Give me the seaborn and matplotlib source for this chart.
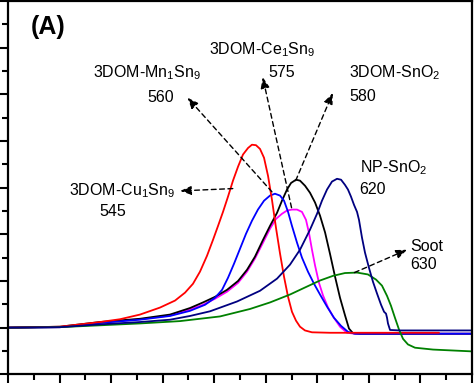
import matplotlib
matplotlib.use("Agg")
import matplotlib.pyplot as plt
import seaborn as sns
from matplotlib.ticker import MultipleLocator

# ---- data (temperature in C, signal in a.u.) ----
temp_cu = [300, 350.4, 389.2, 408.6, 428.0, 447.4, 462.0, 471.7, 479.4, 486.2, 493.0, 498.8,
           503.7, 508.5, 513.4, 518.2, 523.1, 527.9, 532.8, 536.6, 540.5, 544.4, 548.3, 552.2,
           556.0, 559.9, 563.8, 567.7, 571.6, 575.4, 579.3, 583.2, 588.0, 594.8, 612.3, 718.0]
sig_cu = [0.00, 0.02, 0.12, 0.18, 0.28, 0.43, 0.58, 0.75, 0.94, 1.20, 1.54, 1.88,
          2.18, 2.48, 2.81, 3.15, 3.45, 3.71, 3.85, 3.92, 3.91, 3.83, 3.64, 3.25,
          2.74, 2.14, 1.59, 1.09, 0.66, 0.34, 0.15, 0.02, -0.06, -0.10, -0.11, -0.11]

temp_mn = [300, 350.4, 389.2, 428.0, 457.1, 476.5, 491.1, 500.8, 507.6, 513.4, 519.2, 525.0,
           530.8, 536.6, 542.4, 548.3, 554.1, 558.9, 563.8, 567.7, 571.6, 575.4, 580.3, 585.1,
           590.9, 596.8, 602.6, 609.4, 616.2, 622.9, 629.7, 636.5, 751]
sig_mn = [0.00, 0.01, 0.10, 0.17, 0.25, 0.36, 0.49, 0.64, 0.81, 1.07, 1.37, 1.69,
          2.01, 2.29, 2.53, 2.72, 2.83, 2.87, 2.83, 2.72, 2.48, 2.18, 1.82, 1.50,
          1.20, 0.94, 0.71, 0.45, 0.21, 0.04, -0.09, -0.13, -0.13]

temp_ce = [300, 350.4, 389.2, 428.0, 457.1, 476.5, 489.1, 500.8, 512.4, 523.1, 531.8, 539.5,
           547.3, 554.1, 559.9, 565.7, 570.6, 575.4, 580.3, 585.1, 589.0, 591.9, 594.8, 597.8,
           601.6, 605.5, 610.4, 615.2, 622.0, 628.8, 636.5, 751]
sig_ce = [0.00, 0.01, 0.11, 0.18, 0.26, 0.39, 0.49, 0.62, 0.77, 0.96, 1.20, 1.48,
          1.82, 2.12, 2.33, 2.44, 2.51, 2.53, 2.53, 2.48, 2.31, 2.03, 1.67, 1.33,
          0.96, 0.69, 0.43, 0.24, 0.02, -0.11, -0.13, -0.13]

temp_sno2 = [300, 350.4, 389.2, 428.0, 457.1, 476.5, 489.1, 500.8, 512.4, 523.1, 531.8, 539.5,
             547.3, 554.1, 560.9, 565.7, 570.6, 574.5, 579.3, 583.2, 588.1, 592.9, 597.8, 602.6,
             607.5, 612.3, 617.2, 622.0, 626.9, 630.7, 634.6, 641.4, 751]
sig_sno2 = [0.00, 0.02, 0.12, 0.19, 0.28, 0.42, 0.54, 0.66, 0.81, 1.00, 1.24, 1.52,
            1.88, 2.18, 2.46, 2.72, 2.96, 3.10, 3.17, 3.15, 3.04, 2.89, 2.68, 2.40,
            2.04, 1.58, 1.09, 0.64, 0.26, -0.02, -0.12, -0.13, -0.13]

temp_np = [300, 350.4, 389.2, 428.0, 457.1, 476.5, 495.9, 522.1, 544.4, 560.9, 573.5, 583.2,
           592.9, 599.7, 604.5, 609.4, 614.2, 619.1, 623.0, 626.8, 629.7, 632.6, 635.6, 638.5,
           640.4, 643.3, 646.2, 650.1, 654.0, 657.9, 661.8, 664.7, 666.6, 667.6, 668.5, 670.5,
           680.2, 751]
sig_np = [0.00, 0.01, 0.07, 0.12, 0.17, 0.25, 0.35, 0.56, 0.79, 1.05, 1.35, 1.67,
          2.10, 2.44, 2.72, 2.96, 3.13, 3.19, 3.17, 3.06, 2.96, 2.81, 2.63, 2.48,
          2.31, 1.93, 1.61, 1.28, 0.98, 0.73, 0.49, 0.34, 0.30, 0.21, 0.09, -0.05,
          -0.06, -0.06]

temp_soot = [300, 350.4, 389.2, 428.0, 466.8, 505.6, 534.7, 554.1, 573.5, 588.0, 602.6, 615.2,
             626.8, 638.5, 649.1, 656.9, 662.7, 667.6, 671.4, 675.3, 679.2, 683.1, 687.9, 694.7,
             712.2, 751]
sig_soot = [0.00, 0.01, 0.05, 0.09, 0.14, 0.24, 0.40, 0.54, 0.71, 0.86, 1.01, 1.11,
            1.17, 1.18, 1.14, 1.03, 0.90, 0.68, 0.47, 0.21, -0.04, -0.24, -0.36, -0.43,
            -0.47, -0.51]

series = [
    ("3DOM-Ce1Sn9", temp_ce, sig_ce, "#ff00ff"),
    ("3DOM-SnO2", temp_sno2, sig_sno2, "#000000"),
    ("3DOM-Mn1Sn9", temp_mn, sig_mn, "#0000ff"),
    ("3DOM-Cu1Sn9", temp_cu, sig_cu, "#ff0000"),
    ("Soot", temp_soot, sig_soot, "#008000"),
    ("NP-SnO2", temp_np, sig_np, "#000080"),
]

sns.set_theme(style="ticks")
plt.rcParams['font.family'] = ['Liberation Sans', 'DejaVu Sans']
plt.rcParams['mathtext.fontset'] = 'custom'
plt.rcParams['mathtext.rm'] = 'Liberation Sans'
plt.rcParams['mathtext.default'] = 'regular'
plt.rcParams['text.color'] = 'black'

fig = plt.figure(figsize=(4.74, 3.83), dpi=100)
ax = fig.add_axes([8 / 474, 8.7 / 383, 464 / 474, 373.3 / 383])

for name, t, s, c in series:
    sns.lineplot(x=t, y=s, color=c, linewidth=1.3, estimator=None, sort=False, ax=ax)

ax.set_xlim(300, 750)
ax.set_ylim(-1, 7)
ax.xaxis.set_major_locator(MultipleLocator(50))
ax.xaxis.set_minor_locator(MultipleLocator(25))
ax.yaxis.set_major_locator(MultipleLocator(1))
ax.yaxis.set_minor_locator(MultipleLocator(0.5))
ax.tick_params(which='major', direction='out', length=7, width=1.5, color='black',
               labelleft=False, labelbottom=False)
ax.tick_params(which='minor', direction='out', length=4, width=1.5, color='black')
for sp in ax.spines.values():
    sp.set_linewidth(1.6)
    sp.set_color('black')

# annotations: label text, number text, arrow head and arrow tail
fs = 11.5
arrow = dict(arrowstyle='-|>,head_length=0.55,head_width=0.22', color='black',
             lw=1.0, ls=(0, (3.5, 2.5)), shrinkA=0, shrinkB=0)

ax.text(462, 2.93, r'3DOM-Cu$_1$Sn$_9$', fontsize=fs, ha='right', va='center')
ax.text(402, 2.48, '545', fontsize=fs, ha='center', va='center')
ax.annotate('', xy=(467, 2.93), xytext=(518, 2.98), arrowprops=arrow)

ax.text(435, 5.46, r'3DOM-Mn$_1$Sn$_9$', fontsize=fs, ha='center', va='center')
ax.text(448, 4.94, '560', fontsize=fs, ha='center', va='center')
ax.annotate('', xy=(474, 4.93), xytext=(556, 2.91), arrowprops=arrow)

ax.text(546, 5.95, r'3DOM-Ce$_1$Sn$_9$', fontsize=fs, ha='center', va='center')
ax.text(565, 5.46, '575', fontsize=fs, ha='center', va='center')
ax.annotate('', xy=(547, 5.37), xytext=(575, 2.57), arrowprops=arrow)

ax.text(631, 5.46, r'3DOM-SnO$_2$', fontsize=fs, ha='left', va='center')
ax.text(631, 4.95, '580', fontsize=fs, ha='left', va='center')
ax.annotate('', xy=(615, 5.03), xytext=(579, 3.15), arrowprops=arrow)

ax.text(641, 3.43, r'NP-SnO$_2$', fontsize=fs, ha='left', va='center')
ax.text(641, 2.96, '620', fontsize=fs, ha='left', va='center')

ax.text(690, 1.73, 'Soot', fontsize=fs, ha='left', va='center')
ax.text(690, 1.35, '630', fontsize=fs, ha='left', va='center')
ax.annotate('', xy=(687, 1.67), xytext=(636, 1.18), arrowprops=arrow)

ax.text(0.05, 0.93, '(A)', transform=ax.transAxes, fontsize=18, fontweight='bold',
        ha='left', va='center')

fig.savefig('out.png', dpi=100)
